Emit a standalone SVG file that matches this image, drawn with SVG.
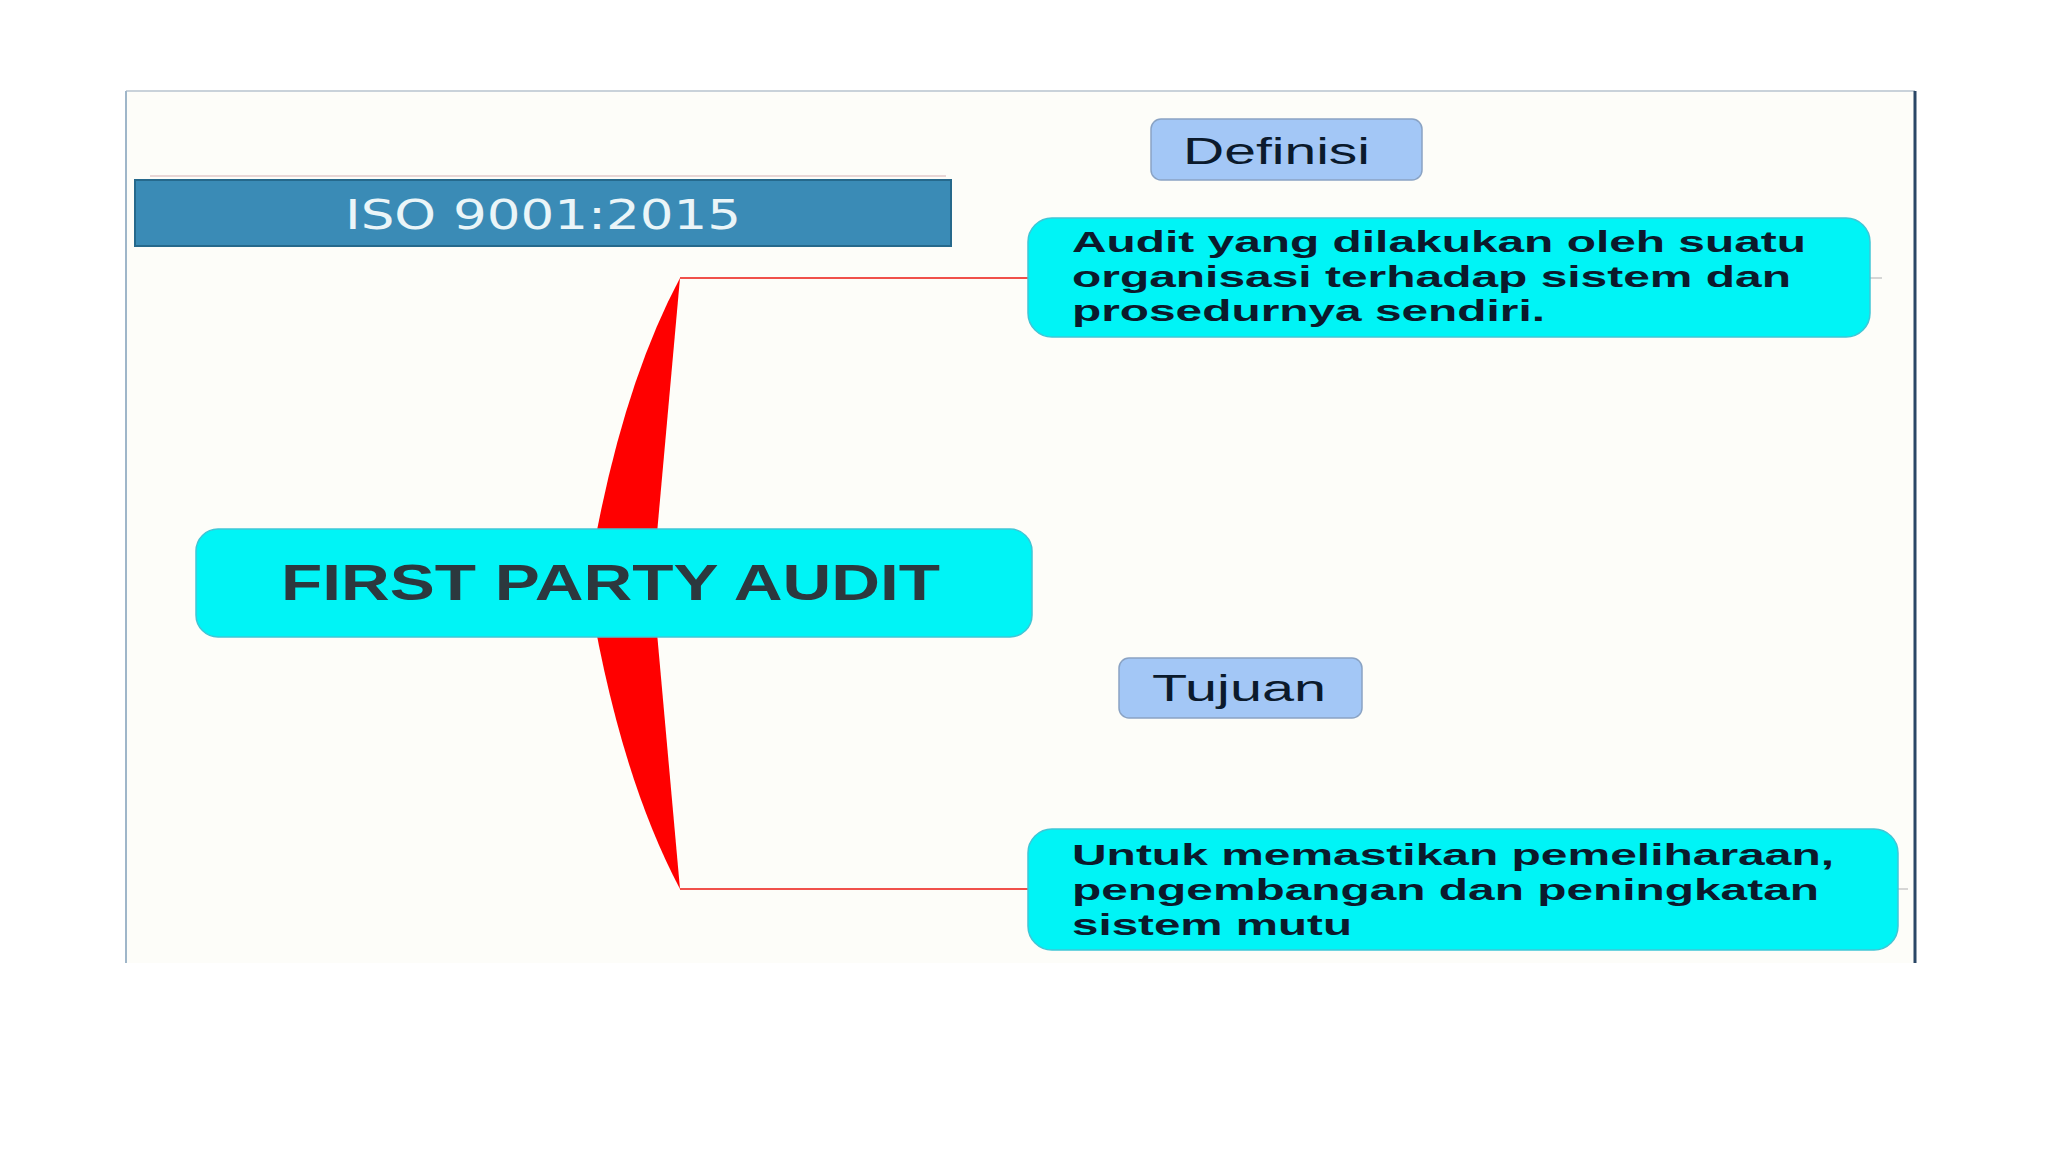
<svg xmlns="http://www.w3.org/2000/svg" width="2048" height="1152" viewBox="0 0 2048 1152">
<defs>
<style>
.node-cyan{fill:#00f4f6;stroke:#3fc6d6;stroke-width:1.5}
.node-label{fill:#a3c7f6;stroke:#8aa3c4;stroke-width:1.5}
.txt{font-family:"Liberation Sans",Arial,sans-serif;fill:#0b1a2c}
.bold{font-weight:bold}
.body{font-size:29px}
.wedge{fill:#ff0000}
.link{stroke:#f0504a;stroke-width:2;fill:none}
</style>
</defs>
<rect x="0" y="0" width="2048" height="1152" fill="#ffffff"/>
<g id="frame">
<rect x="126" y="91" width="1789" height="872" fill="#fdfdf9"/>
<line x1="126" y1="91" x2="1915" y2="91" stroke="#c9d2da" stroke-width="2"/>
<line x1="126" y1="91" x2="126" y2="963" stroke="#9fb6c9" stroke-width="2"/>
<line x1="1915" y1="91" x2="1915" y2="963" stroke="#2a4766" stroke-width="3"/>
</g>
<g id="connectors">
<path class="wedge" d="M680,278 L651,600 L585,600 Q615,400 680,278 Z"/>
<path class="wedge" d="M680,889 L651,566 L585,566 Q615,766 680,889 Z"/>
<line class="link" x1="680" y1="278" x2="1030" y2="278"/>
<line class="link" x1="680" y1="889" x2="1030" y2="889"/>
<line x1="1870" y1="278" x2="1882" y2="278" stroke="#c8c8c8" stroke-width="1.5"/>
<line x1="1898" y1="889" x2="1908" y2="889" stroke="#c8c8c8" stroke-width="1.5"/>
</g>
<g id="iso">
<line x1="150" y1="176" x2="946" y2="176" stroke="#e8d6d6" stroke-width="2"/>
<rect x="135" y="180" width="816" height="66" fill="#3a8bb6" stroke="#26698c" stroke-width="2"/>
<text x="543" y="229" text-anchor="middle" font-family="'DejaVu Sans',Verdana,sans-serif" font-size="40" fill="#eaf5f8" textLength="396" lengthAdjust="spacingAndGlyphs">ISO 9001:2015</text>
</g>
<g id="first-party-audit">
<rect class="node-cyan" x="196" y="529" width="836" height="108" rx="22"/>
<text class="txt bold" x="281" y="600" font-size="50" fill="#2e3a40" style="fill:#2c383e" textLength="659" lengthAdjust="spacingAndGlyphs">FIRST PARTY AUDIT</text>
</g>
<g id="definisi">
<rect class="node-label" x="1151" y="119" width="271" height="61" rx="10"/>
<text class="txt" x="1183" y="164" font-size="37" textLength="187" lengthAdjust="spacingAndGlyphs">Definisi</text>
</g>
<g id="definisi-text">
<rect class="node-cyan" x="1028" y="218" width="842" height="119" rx="24"/>
<text class="txt bold body" x="1072" y="252" textLength="734" lengthAdjust="spacingAndGlyphs">Audit yang dilakukan oleh suatu</text>
<text class="txt bold body" x="1072" y="287" textLength="719" lengthAdjust="spacingAndGlyphs">organisasi terhadap sistem dan</text>
<text class="txt bold body" x="1072" y="321" textLength="473" lengthAdjust="spacingAndGlyphs">prosedurnya sendiri.</text>
</g>
<g id="tujuan">
<rect class="node-label" x="1119" y="658" width="243" height="60" rx="10"/>
<text class="txt" x="1152" y="701" font-size="37" textLength="174" lengthAdjust="spacingAndGlyphs">Tujuan</text>
</g>
<g id="tujuan-text">
<rect class="node-cyan" x="1028" y="829" width="870" height="121" rx="24"/>
<text class="txt bold body" x="1072" y="865" textLength="762" lengthAdjust="spacingAndGlyphs">Untuk memastikan pemeliharaan,</text>
<text class="txt bold body" x="1072" y="900" textLength="747" lengthAdjust="spacingAndGlyphs">pengembangan dan peningkatan</text>
<text class="txt bold body" x="1072" y="935" textLength="280" lengthAdjust="spacingAndGlyphs">sistem mutu</text>
</g>
</svg>
